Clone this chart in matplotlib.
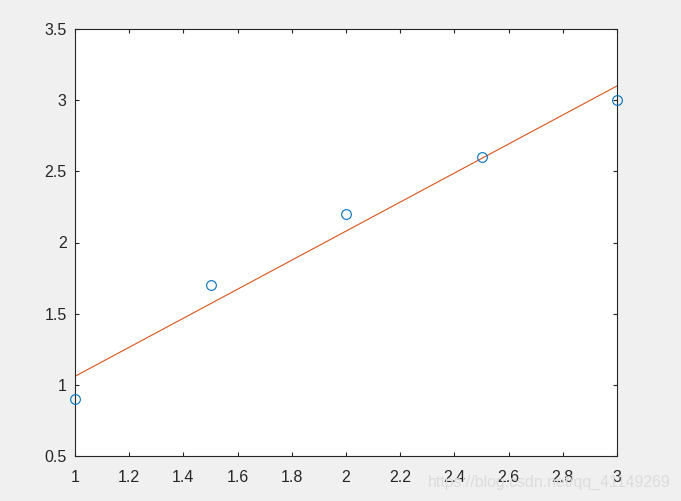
import matplotlib.pyplot as plt
import numpy as np

x = [1, 1.5, 2, 2.5, 3]
y = [0.9, 1.7, 2.2, 2.6, 3.0]
xticks = [1, 1.2, 1.4, 1.6, 1.8, 2, 2.2, 2.4, 2.6, 2.8, 3]
xtick_labels = ['1', '1.2', '1.4', '1.6', '1.8', '2', '2.2', '2.4', '2.6', '2.8', '3']
yticks = [0.5, 1, 1.5, 2, 2.5, 3, 3.5]
ytick_labels = ['0.5', '1', '1.5', '2', '2.5', '3', '3.5']


def main():
    plt.rcParams['font.family'] = ['Liberation Sans', 'DejaVu Sans']
    fig = plt.figure(figsize=(6.81, 5.01), dpi=100, facecolor='#f0f0f0')
    ax = fig.add_axes([75 / 681, 1 - 456 / 501, (617 - 75) / 681, (456 - 29) / 501])

    # linear fit like polyfit(x, y, 1)
    p = np.polyfit(x, y, 1)
    xf = np.array([x[0], x[-1]])
    ax.plot(x, y, 'o', mfc='none', mec='#0072BD', ms=7, mew=0.8, clip_on=False, zorder=3)
    ax.plot(xf, np.polyval(p, xf), color='#D95319', lw=0.8)

    ax.set_xlim(1, 3)
    ax.set_ylim(0.5, 3.5)
    ax.set_xticks(xticks)
    ax.set_xticklabels(xtick_labels)
    ax.set_yticks(yticks)
    ax.set_yticklabels(ytick_labels)
    ax.tick_params(direction='in', top=True, right=True, length=3, width=0.8,
                   labelsize=11.5, colors='#262626')
    ax.tick_params(axis='x', pad=10)
    ax.tick_params(axis='y', pad=6)
    for s in ax.spines.values():
        s.set_color('#262626')
        s.set_linewidth(0.8)

    fig.text(0.628, 0.038, 'https://blog.csdn.net/qq_41149269', color='#dcdcdc',
             fontsize=11.4, ha='left', va='center')

    fig.savefig('out.png', dpi=100, facecolor=fig.get_facecolor())


if __name__ == '__main__':
    main()
